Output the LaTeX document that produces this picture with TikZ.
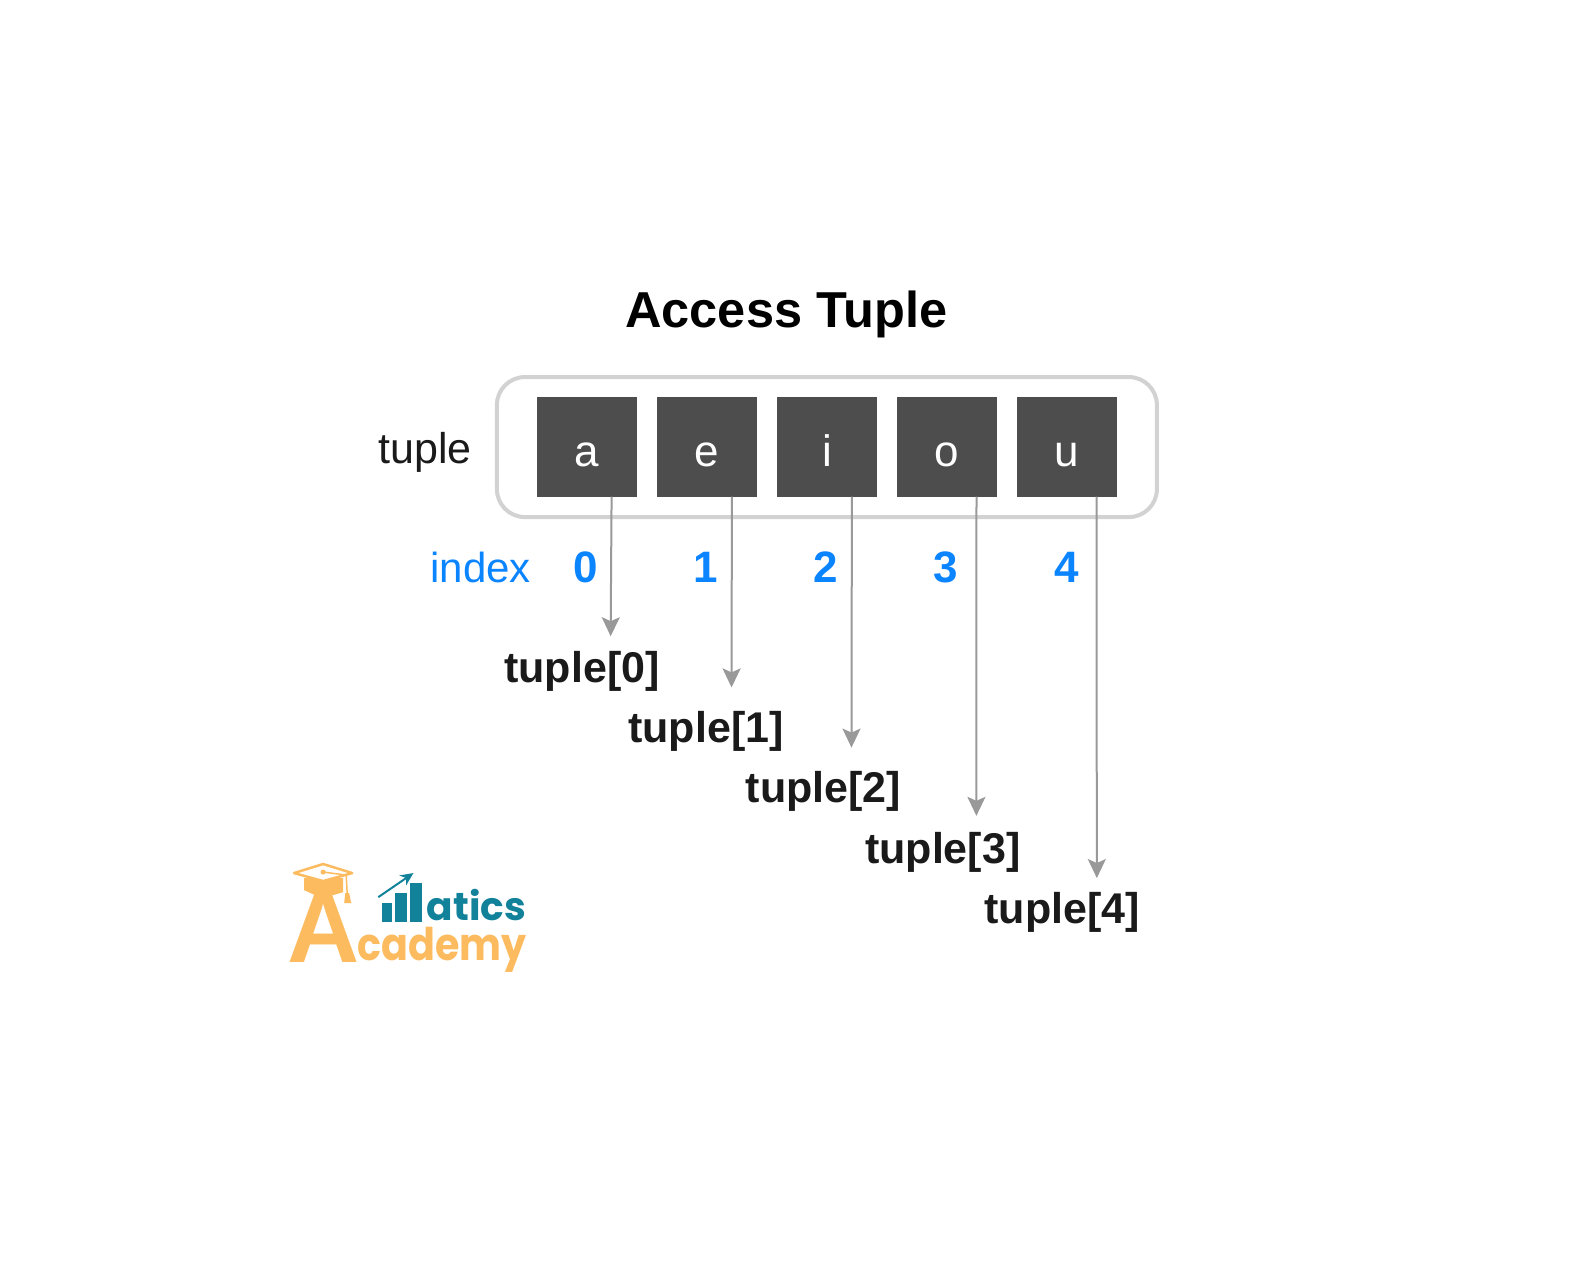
\documentclass[tikz,border=0pt]{standalone}
\usepackage{fontspec}
\setmainfont{Liberation Sans}
\newfontfamily\logofont{Poppins}[BoldFont=* Bold]
\usetikzlibrary{matrix,arrows.meta}
\definecolor{boxgray}{HTML}{4D4D4D}
\definecolor{framegray}{HTML}{D2D2D2}
\definecolor{arrowgray}{HTML}{999999}
\definecolor{indexblue}{HTML}{0A84FF}
\definecolor{inkdark}{HTML}{1A1A1A}
\definecolor{logoorange}{HTML}{FDBB5F}
\definecolor{logoteal}{HTML}{11829A}
\newcommand{\fs}[1]{\fontsize{#1bp}{#1bp}\selectfont}
\tikzset{
	cellbox/.style={fill=boxgray,text=white,inner sep=0pt,outer sep=0pt,text width=100bp,align=center,text height=70bp,text depth=30bp,font=\fs{44}},
	frame/.style={draw=framegray,line width=4bp,rounded corners=28bp,minimum width=660bp,minimum height=140bp},
	idxlabel/.style={anchor=base,text=indexblue,inner sep=0pt,font=\fs{44}\bfseries},
	acclabel/.style={anchor=base,text=inkdark,inner sep=0pt,font=\fs{43}\bfseries},
	accarrow/.style={-{Stealth[length=19bp,width=18bp,inset=4bp]},draw=arrowgray,line width=2bp},
}
\begin{document}
\begin{tikzpicture}[x=1.0035bp,y=-1.0035bp]
	\useasboundingbox[fill=white] (0,0) rectangle (1568.5,1269.6);
	\node[anchor=base,inner sep=0pt,font=\fs{50.5}\bfseries] (title) at (783.5,326.5) {Access Tuple};
	\node[frame] (frame) at (824,445.5) {};
	\matrix (m) [matrix of nodes,column sep=20bp,inner sep=0pt,nodes={cellbox},ampersand replacement=\&] at (824,445)
	{
		a \& e \& i \& o \& u \\};
	\node[anchor=base,inner sep=0pt,text=inkdark,font=\fs{43}] (tuplename) at (423.5,462) {tuple};
	\node[anchor=base,inner sep=0pt,text=indexblue,font=\fs{42}] (indexname) at (479,580.5) {index};
	\node[idxlabel] (idx0) at (583.5,580.5) {0};
	\node[idxlabel] (idx1) at (703.5,580.5) {1};
	\node[idxlabel] (idx2) at (823,580.5) {2};
	\node[idxlabel] (idx3) at (942.5,580.5) {3};
	\node[idxlabel] (idx4) at (1062.5,580.5) {4};
	\node[acclabel] (acc0) at (580,680) {tuple[0]};
	\node[acclabel] (acc1) at (703.5,740) {tuple[1]};
	\node[acclabel] (acc2) at (820.5,800) {tuple[2]};
	\node[acclabel] (acc3) at (939.5,860) {tuple[3]};
	\node[acclabel] (acc4) at (1058.5,920) {tuple[4]};
	\coordinate (tip0) at (608.5,634);
	\coordinate (tip1) at (729,685);
	\coordinate (tip2) at (848.5,745);
	\coordinate (tip3) at (973,813);
	\coordinate (tip4) at (1093,875);
	\path[every edge/.append style={accarrow}]
	([xshift=24.7bp]m-1-1.south) edge (tip0)
	([xshift=25bp]m-1-2.south) edge (tip1)
	([xshift=25bp]m-1-3.south) edge (tip2)
	([xshift=29.6bp]m-1-4.south) edge (tip3)
	([xshift=29.6bp]m-1-5.south) edge (tip4);
	\fill[logoorange] (303,875) -- (342,875) -- (342,889) -- (332,892) -- (314,892) -- (303,887) -- cycle;
	\draw[logoorange,fill=white,line width=2.5bp,line join=round] (293,870) -- (322,861) -- (351,870) -- (322,878) -- cycle;
	\fill[logoorange] (322,869) circle (2.5);
	\draw[logoorange,line width=1.5bp] (322,869) -- (345,872) -- (346,891);
	\fill[logoorange] (344,890) -- (348,890) -- (350,900) -- (343,900) -- cycle;
	\node[anchor=base,inner sep=0pt,text=logoorange,font=\fs{100}\bfseries] (logoA) at (322,959) {A};
	\node[anchor=base west,inner sep=0pt,text=logoorange,font=\fs{45}\logofont\bfseries,transform shape,xscale=.88] (logoB) at (356,957.5) {cademy};
	\fill[logoteal] (381,900) rectangle (391,918.5);
	\fill[logoteal] (394,890) rectangle (406,918.5);
	\fill[logoteal] (409,880) rectangle (421,918.5);
	\draw[logoteal,line width=2bp,-{Stealth[length=13bp,width=12bp]}] (377,894) -- (412,870);
	\node[anchor=base west,inner sep=0pt,text=logoteal,font=\fs{39}\logofont\bfseries] (logoC) at (425,917.5) {atics};
\end{tikzpicture}
\end{document}
